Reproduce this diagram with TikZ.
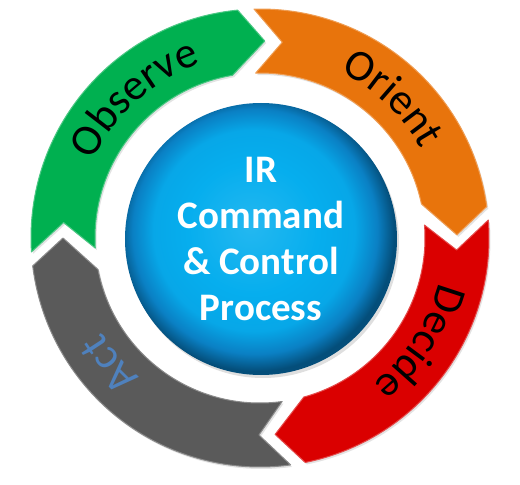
\documentclass[tikz,border=0pt]{standalone}
\usepackage{fontspec}
\usepackage{xcolor}
\usepackage{tikz}
\usetikzlibrary{decorations.text}
\usetikzlibrary{shadows}
\newfontfamily\calibri{Carlito}

\definecolor{obsgreen}{HTML}{00B050}
\definecolor{oriorange}{HTML}{E8740C}
\definecolor{decred}{HTML}{DA0000}
\definecolor{actgray}{HTML}{5A5A5A}
\definecolor{actblue}{HTML}{4F81BD}
\definecolor{ballmid}{HTML}{06AEEE}
\definecolor{balledge}{HTML}{0A80C4}
\definecolor{balldark}{HTML}{044E7A}

% the path box fits the middle 50bp of the shading
\pgfdeclareradialshading{coreball}{\pgfpoint{-2bp}{2.5bp}}{color(0bp)=(ballmid!88!white); color(12bp)=(ballmid); color(18.5bp)=(ballmid!85!balledge); color(22.5bp)=(balledge); color(25.5bp)=(balldark); color(50bp)=(balldark)}

\newcommand{\ringin}{165pt}
\newcommand{\ringout}{229pt}
\newcommand{\ringmid}{197pt}
\newcommand{\arcfont}{\calibri\fontsize{44}{44}\selectfont}

% tail angle #2, head angle #3
\newcommand{\ringarrow}[3]{%
    \path[#1] (#2:\ringout) arc[start angle=#2, end angle=#3+7, radius=\ringout]
        -- (#3:\ringmid) -- (#3+11:\ringin)
        arc[start angle=#3+11, end angle=#2, radius=\ringin]
        -- (#2-8:\ringmid) -- cycle;}

\tikzset{
    ring_arrow/.style = {drop shadow={opacity=0.22, shadow xshift=1.5pt, shadow yshift=-2pt}, line width=1pt, line join=round},
    green_arrow/.style = {ring_arrow, fill=obsgreen, draw=obsgreen!70!white},
    orange_arrow/.style = {ring_arrow, fill=oriorange, draw=oriorange!70!white},
    red_arrow/.style = {ring_arrow, fill=decred, draw=decred!70!white},
    gray_arrow/.style = {ring_arrow, fill=actgray, draw=actgray!70!white},
    arc_text/.style = {decorate, decoration={text along path, text align=center, text color=#1}},
    core_ball/.style = {circle, shade, shading=coreball, minimum size=272pt, inner sep=0pt,
        drop shadow={opacity=0.25, shadow xshift=2pt, shadow yshift=-3pt},
        align=center, text=white, font=\calibri\bfseries\fontsize{39}{46}\selectfont}
}

\begin{document}
\begin{tikzpicture}
    \useasboundingbox (-260pt,-247pt) rectangle (260pt,238pt);

    \ringarrow{green_arrow}{183.5}{88.6}
    \ringarrow{orange_arrow}{91.5}{0.9}
    \ringarrow{red_arrow}{4.5}{-85.6}
    \ringarrow{gray_arrow}{277.7}{180}

    \path[arc_text=black, decoration={text={|\arcfont|Observe}}]
        (175:184pt) arc[start angle=175, end angle=89, radius=184pt];
    \path[arc_text=black, decoration={text={|\arcfont|Orient}}]
        (90:184pt) arc[start angle=90, end angle=3, radius=184pt];
    \path[arc_text=black, decoration={text={|\arcfont|Decide}}]
        (10:184pt) arc[start angle=10, end angle=-76, radius=184pt];
    \path[arc_text=actblue, decoration={text={|\arcfont|Act}}]
        (263:184pt) arc[start angle=263, end angle=177, radius=184pt];

    \node[core_ball] (core) at (1pt,-1pt) {IR\\Command\\\& Control\\Process};
\end{tikzpicture}
\end{document}
